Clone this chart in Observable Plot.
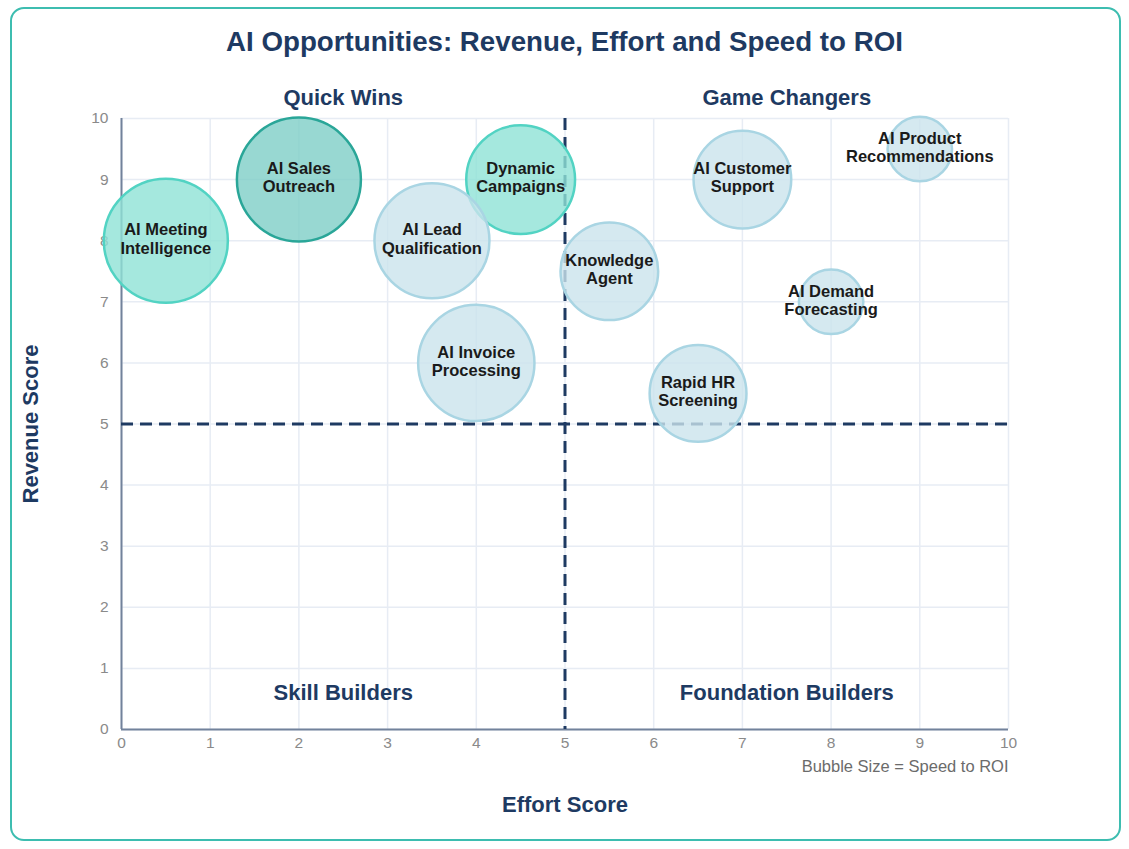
<!DOCTYPE html>
<html>
<head>
<meta charset="utf-8">
<script src="https://cdn.jsdelivr.net/npm/d3@7"></script>
<script src="https://cdn.jsdelivr.net/npm/@observablehq/plot@0.6"></script>
<style>
  html, body { margin: 0; padding: 0; background: #ffffff; }
  body { width: 1129px; height: 849px; position: relative; overflow: hidden; font-family: "Liberation Sans", Arial, sans-serif; }
  #card { position: absolute; left: 10px; top: 7px; width: 1111px; height: 834px; box-sizing: border-box; border: 2.5px solid #3dbdb0; border-radius: 14px; }
  #title { position: absolute; left: 0; width: 1129px; top: 26px; text-align: center; font-size: 27.7px; font-weight: bold; color: #1e3a62; line-height: 32px; }
  #chart { position: absolute; left: 0; top: 60px; }
</style>
</head>
<body>
<div id="card"></div>
<div id="title">AI Opportunities: Revenue, Effort and Speed to ROI</div>
<div id="chart"></div>
<script>
// ---- Data ----
const names = ["AI Meeting\nIntelligence", "AI Sales\nOutreach", "AI Lead\nQualification", "Dynamic\nCampaigns", "AI Invoice\nProcessing", "Knowledge\nAgent", "AI Customer\nSupport", "Rapid HR\nScreening", "AI Demand\nForecasting", "AI Product\nRecommendations"];
const effort = [0.5, 2, 3.5, 4.5, 4, 5.5, 7, 6.5, 8, 9];
const revenue = [8, 9, 8, 9, 6, 7.5, 9, 5.5, 7, 9.5];
const speedToROI = [10, 10, 8.6, 7.7, 8.8, 6.2, 6.2, 6.1, 2.7, 2.7];
const tier = ["Fast Track", "Top Pick", "Standard", "Fast Track", "Standard", "Standard", "Standard", "Standard", "Standard", "Standard"];

const quadrantNames = ["Quick Wins", "Game Changers", "Skill Builders", "Foundation Builders"];
const quadrantEffort = [2.5, 7.5, 2.5, 7.5];
const quadrantRevenue = [10.34, 10.34, 0.6, 0.6];

const xTicks = [0, 1, 2, 3, 4, 5, 6, 7, 8, 9, 10];
const yTicks = [0, 1, 2, 3, 4, 5, 6, 7, 8, 9, 10];
const threshold = 5;

const tierStyles = {
  "Top Pick":   {fill: "#7ecec7", stroke: "#2aa698"},
  "Fast Track": {fill: "#8fe2d6", stroke: "#52d3c3"},
  "Standard":   {fill: "#cbe3ec", stroke: "#a9d5e3"}
};

const rows = names.map((n, i) => ({name: n, effort: effort[i], revenue: revenue[i], speed: speedToROI[i], tier: tier[i]}));
const quads = quadrantNames.map((n, i) => ({name: n, effort: quadrantEffort[i], revenue: quadrantRevenue[i]}));

const navy = "#1e3a62";

const bubbleMarks = Object.keys(tierStyles).map(t =>
  Plot.dot(rows.filter(d => d.tier === t), {
    x: "effort", y: "revenue", r: "speed",
    fill: tierStyles[t].fill, fillOpacity: 0.8,
    stroke: tierStyles[t].stroke, strokeWidth: 2.5
  })
);

const chart = Plot.plot({
  width: 1129,
  height: 780,
  marginLeft: 121,
  marginRight: 121,
  marginTop: 58,
  marginBottom: 111,
  style: {fontFamily: "'Liberation Sans', Arial, sans-serif", background: "transparent", overflow: "visible"},
  x: {domain: [0, 10], label: null},
  y: {domain: [0, 10], label: null},
  r: {type: "sqrt", domain: [0, 10], range: [0, 62]},
  marks: [
    Plot.gridX(xTicks, {stroke: "#e7ecf4", strokeOpacity: 1, strokeWidth: 1.5}),
    Plot.gridY(yTicks, {stroke: "#e7ecf4", strokeOpacity: 1, strokeWidth: 1.5}),
    Plot.ruleX([0], {stroke: "#72829b", strokeWidth: 2}),
    Plot.ruleY([0], {stroke: "#72829b", strokeWidth: 2}),
    Plot.ruleX([threshold], {stroke: navy, strokeWidth: 3, strokeDasharray: "12,7"}),
    Plot.ruleY([threshold], {stroke: navy, strokeWidth: 3, strokeDasharray: "12,7"}),
    Plot.axisX(xTicks, {tickSize: 0, tickPadding: 7, fontSize: 15.5, color: "#8a8a8a", label: null, tickFormat: d => String(d)}),
    Plot.axisY(yTicks, {tickSize: 0, tickPadding: 13, fontSize: 15.5, color: "#8a8a8a", label: null, tickFormat: d => String(d)}),
    ...bubbleMarks,
    Plot.text(rows, {x: "effort", y: "revenue", text: "name", fontSize: 16.5, fontWeight: "bold", fill: "#1a1a1a", lineHeight: 1.1, dy: -2}),
    Plot.text(quads, {x: "effort", y: "revenue", text: "name", fontSize: 22, fontWeight: "bold", fill: navy}),
    Plot.text(["Revenue Score"], {frameAnchor: "left", dx: -91, rotate: -90, textAnchor: "middle", lineAnchor: "middle", fontSize: 22, fontWeight: "bold", fill: navy}),
    Plot.text(["Effort Score"], {frameAnchor: "bottom", dy: 75, lineAnchor: "middle", fontSize: 22, fontWeight: "bold", fill: navy}),
    Plot.text(["Bubble Size = Speed to ROI"], {frameAnchor: "bottom-right", dy: 37, textAnchor: "end", lineAnchor: "middle", fontSize: 16.5, fill: "#6b6b6b"})
  ]
});
document.getElementById("chart").appendChild(chart);
</script>
</body>
</html>
